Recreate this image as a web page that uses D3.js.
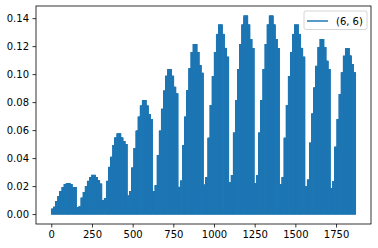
<!DOCTYPE html>
<html>
<head>
<meta charset="utf-8">
<script src="https://cdn.jsdelivr.net/npm/d3@7"></script>
<style>
  body { margin: 0; background: #fff; }
  text { font-family: "DejaVu Sans", sans-serif; }
</style>
</head>
<body>
<div id="viz"></div>
<script>
// plot area inside the 378x248 window
var margin = {top: 6, right: 7, bottom: 24, left: 36};
var width = 378;
var height = 248;

var stepLength = 13;
var hump1  = [0.0036, 0.0050, 0.0090, 0.0127, 0.0163, 0.0190, 0.0210, 0.0220, 0.0220, 0.0210, 0.0190, 0.0190];
var hump2  = [0.0048, 0.0052, 0.0115, 0.0156, 0.0196, 0.0235, 0.0263, 0.0278, 0.0278, 0.0262, 0.0240, 0.0215];
var hump3  = [0.0096, 0.0110, 0.0235, 0.0335, 0.0407, 0.0490, 0.0545, 0.0574, 0.0574, 0.0545, 0.0520, 0.0498];
var hump4  = [0.0130, 0.0163, 0.0330, 0.0470, 0.0594, 0.0694, 0.0773, 0.0813, 0.0813, 0.0773, 0.0713, 0.0677];
var hump5  = [0.0163, 0.0203, 0.0419, 0.0594, 0.0750, 0.0880, 0.0986, 0.1034, 0.1034, 0.0986, 0.0907, 0.0860];
var hump6  = [0.0192, 0.0237, 0.0490, 0.0694, 0.0883, 0.1039, 0.1154, 0.1213, 0.1213, 0.1154, 0.1062, 0.1007];
var hump7  = [0.0208, 0.0263, 0.0543, 0.0775, 0.0983, 0.1154, 0.1285, 0.1352, 0.1352, 0.1285, 0.1185, 0.1122];
var hump8  = [0.0225, 0.0275, 0.0580, 0.0811, 0.1034, 0.1213, 0.1352, 0.1416, 0.1416, 0.1352, 0.1249, 0.1182];
var hump9  = [0.0220, 0.0275, 0.0580, 0.0811, 0.1034, 0.1213, 0.1352, 0.1416, 0.1416, 0.1352, 0.1249, 0.1182];
var hump10 = [0.0213, 0.0263, 0.0543, 0.0775, 0.0983, 0.1154, 0.1285, 0.1352, 0.1352, 0.1285, 0.1185, 0.1122];
var hump11 = [0.0196, 0.0244, 0.0508, 0.0716, 0.0902, 0.1057, 0.1190, 0.1249, 0.1249, 0.1190, 0.1093, 0.1034];
var hump12 = [0.0184, 0.0232, 0.0479, 0.0675, 0.0854, 0.1010, 0.1129, 0.1182, 0.1182, 0.1130, 0.1070, 0.1010];

var xTicks = [0, 250, 500, 750, 1000, 1250, 1500, 1750];
var yTicks = [0, 0.02, 0.04, 0.06, 0.08, 0.10, 0.12, 0.14];
var seriesLabel = "(6, 6)";
var barColor = "#1f77b4";

// expand the steps into one value per bar
var bars = [];
[hump1, hump2, hump3, hump4, hump5, hump6, hump7, hump8, hump9, hump10, hump11, hump12].forEach(function(hump) {
  hump.forEach(function(v) {
    for (var k = 0; k < stepLength; k++) {
      bars.push({i: bars.length, value: v});
    }
  });
});

// matplotlib style 5% margins round the data
var n = bars.length;
var xPad = (n - 1 + 0.8) * 0.05;
var yMax = d3.max(bars, function(d) { return d.value; });

var x = d3.scaleLinear()
  .domain([-0.4 - xPad, n - 1 + 0.4 + xPad])
  .range([margin.left, width - margin.right]);

var y = d3.scaleLinear()
  .domain([-yMax * 0.05, yMax * 1.05])
  .range([height - margin.bottom, margin.top]);

var svg = d3.select("#viz")
  .append("svg")
  .attr("width", width)
  .attr("height", height);

// bars, width 0.8 like plt.bar; a thin stroke keeps sub-pixel bars solid
svg.append("g")
  .selectAll("rect")
  .data(bars)
  .enter()
  .append("rect")
  .attr("x", function(d) { return x(d.i - 0.4); })
  .attr("width", function(d) { return x(d.i + 0.4) - x(d.i - 0.4); })
  .attr("y", function(d) { return y(d.value); })
  .attr("height", function(d) { return y(0) - y(d.value); })
  .attr("fill", barColor)
  .attr("stroke", barColor)
  .attr("stroke-width", 0.55);

// axes
var xAxis = svg.append("g")
  .attr("transform", "translate(0," + (height - margin.bottom) + ")")
  .call(d3.axisBottom(x).tickValues(xTicks).tickFormat(d3.format("d")).tickSizeInner(3.5).tickSizeOuter(0).tickPadding(3.5));

var yAxis = svg.append("g")
  .attr("transform", "translate(" + margin.left + ",0)")
  .call(d3.axisLeft(y).tickValues(yTicks).tickFormat(d3.format(".2f")).tickSizeInner(3.5).tickSizeOuter(0).tickPadding(3.5));

[xAxis, yAxis].forEach(function(g) {
  g.select(".domain").remove();
  g.selectAll("line").attr("stroke", "#000").attr("stroke-width", 0.8);
  g.selectAll("text").attr("font-size", "10px").attr("fill", "#000").style("font-family", "DejaVu Sans");
});

// frame
svg.append("rect")
  .attr("x", margin.left)
  .attr("y", margin.top)
  .attr("width", width - margin.left - margin.right)
  .attr("height", height - margin.top - margin.bottom)
  .attr("fill", "none")
  .attr("stroke", "#000")
  .attr("stroke-width", 0.8);

// legend, upper right
var legend = svg.append("g")
  .attr("transform", "translate(304,11)");

legend.append("rect")
  .attr("width", 63)
  .attr("height", 18.5)
  .attr("rx", 2)
  .attr("fill", "#fff")
  .attr("fill-opacity", 0.8)
  .attr("stroke", "#cccccc")
  .attr("stroke-width", 0.8);

legend.append("line")
  .attr("x1", 3)
  .attr("x2", 24)
  .attr("y1", 10)
  .attr("y2", 10)
  .attr("stroke", barColor)
  .attr("stroke-width", 1.5);

legend.append("text")
  .attr("x", 32)
  .attr("y", 13.5)
  .attr("font-size", "10px")
  .attr("fill", "#000")
  .text(seriesLabel);
</script>
</body>
</html>
